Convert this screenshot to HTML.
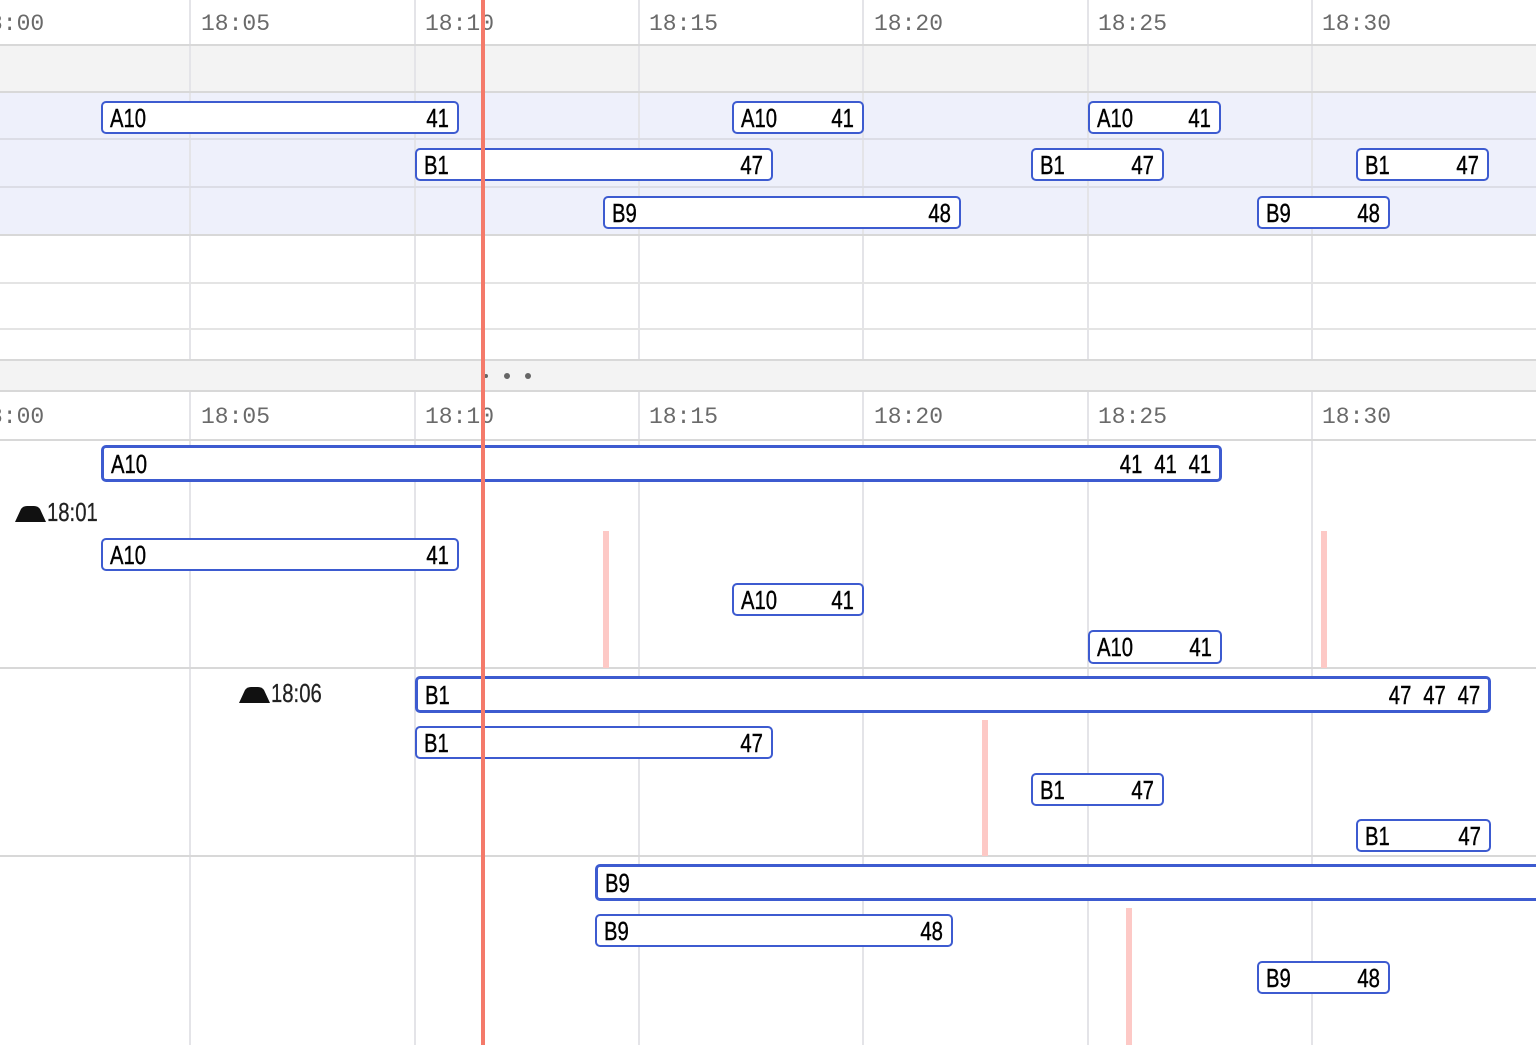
<!DOCTYPE html>
<html><head><meta charset="utf-8"><style>
*{margin:0;padding:0;box-sizing:border-box}
body{width:1536px;height:1045px;position:relative;overflow:hidden;background:#fff;font-family:"Liberation Sans",sans-serif}
.a{position:absolute}
.t{position:absolute;font-family:"Liberation Mono",monospace;font-size:23px;color:#6a6a6a;line-height:1}
.v{position:absolute;width:2px;background:#e4e4e8}
.h{position:absolute;left:0;width:1536px;height:2px;background:#d8d8d8}
.b{position:absolute;border:2px solid #3d5bd0;border-radius:5px;background:#fff;font-size:26px;color:#000;display:flex;justify-content:space-between;align-items:center;padding:0 8px 0 7px;line-height:1;-webkit-text-stroke:0.4px #000}
.b span{display:inline-block;transform:scaleX(.78);transform-origin:left center}
.b span+span{transform-origin:right center}
.B{border-width:3px}
.p{position:absolute;width:6px;background:#fdc9c6}
.lb{position:absolute;font-size:26px;color:#222;display:flex;align-items:center;gap:1px;-webkit-text-stroke:0.3px #222}
.lb span{display:inline-block;transform:scaleX(.78);transform-origin:left center}
</style></head><body>
<div class="a" style="left:0;top:45px;width:1536px;height:47px;background:#f3f3f3"></div>
<div class="a" style="left:0;top:92px;width:1536px;height:143px;background:#eef0fb"></div>
<div class="a" style="left:0;top:360px;width:1536px;height:32px;background:#f3f3f3"></div>
<div class="v" style="left:189px;top:0;height:360px"></div>
<div class="v" style="left:414px;top:0;height:360px"></div>
<div class="v" style="left:638px;top:0;height:360px"></div>
<div class="v" style="left:862px;top:0;height:360px"></div>
<div class="v" style="left:1087px;top:0;height:360px"></div>
<div class="v" style="left:1311px;top:0;height:360px"></div>
<div class="v" style="left:189px;top:392px;height:653px"></div>
<div class="v" style="left:414px;top:392px;height:653px"></div>
<div class="v" style="left:638px;top:392px;height:653px"></div>
<div class="v" style="left:862px;top:392px;height:653px"></div>
<div class="v" style="left:1087px;top:392px;height:653px"></div>
<div class="v" style="left:1311px;top:392px;height:653px"></div>
<div class="h" style="top:44px"></div>
<div class="h" style="top:91px"></div>
<div class="h" style="top:138px;background:#dcdde6"></div>
<div class="h" style="top:186px;background:#dcdde6"></div>
<div class="h" style="top:234px"></div>
<div class="h" style="top:282px;background:#e4e4e4"></div>
<div class="h" style="top:328px;background:#e4e4e4"></div>
<div class="h" style="top:359px"></div>
<div class="h" style="top:390px"></div>
<div class="h" style="top:439px"></div>
<div class="h" style="top:667px"></div>
<div class="h" style="top:855px"></div>
<div class="a" style="left:484px;top:374px;width:4px;height:4px;border-radius:2px;background:#666"></div>
<div class="a" style="left:504px;top:373px;width:6px;height:6px;border-radius:3px;background:#666"></div>
<div class="a" style="left:525px;top:373px;width:6px;height:6px;border-radius:3px;background:#666"></div>
<div class="t" style="left:-11px;top:13px">8:00</div>
<div class="t" style="left:201px;top:13px">18:05</div>
<div class="t" style="left:425px;top:13px">18:10</div>
<div class="t" style="left:649px;top:13px">18:15</div>
<div class="t" style="left:874px;top:13px">18:20</div>
<div class="t" style="left:1098px;top:13px">18:25</div>
<div class="t" style="left:1322px;top:13px">18:30</div>
<div class="t" style="left:-11px;top:406px">8:00</div>
<div class="t" style="left:201px;top:406px">18:05</div>
<div class="t" style="left:425px;top:406px">18:10</div>
<div class="t" style="left:649px;top:406px">18:15</div>
<div class="t" style="left:874px;top:406px">18:20</div>
<div class="t" style="left:1098px;top:406px">18:25</div>
<div class="t" style="left:1322px;top:406px">18:30</div>
<div class="b" style="left:101px;top:101px;width:358px;height:33px"><span>A10</span><span>41</span></div>
<div class="b" style="left:732px;top:101px;width:132px;height:33px"><span>A10</span><span>41</span></div>
<div class="b" style="left:1088px;top:101px;width:133px;height:33px"><span>A10</span><span>41</span></div>
<div class="b" style="left:415px;top:148px;width:358px;height:33px"><span>B1</span><span>47</span></div>
<div class="b" style="left:1031px;top:148px;width:133px;height:33px"><span>B1</span><span>47</span></div>
<div class="b" style="left:1356px;top:148px;width:133px;height:33px"><span>B1</span><span>47</span></div>
<div class="b" style="left:603px;top:196px;width:358px;height:33px"><span>B9</span><span>48</span></div>
<div class="b" style="left:1257px;top:196px;width:133px;height:33px"><span>B9</span><span>48</span></div>
<div class="p" style="left:603px;top:531px;height:137px"></div>
<div class="p" style="left:1321px;top:531px;height:137px"></div>
<div class="p" style="left:982px;top:720px;height:136px"></div>
<div class="p" style="left:1126px;top:908px;height:137px"></div>
<div class="b B" style="left:101px;top:445px;width:1121px;height:37px"><span>A10</span><span style="word-spacing:8px">41 41 41</span></div>
<div class="lb" style="left:15px;top:497px"><svg width="31" height="18"><path d="M0,18 L6,5 Q8,2 12,2 L19,2 Q23,2 25,5 L31,18 Z" fill="#111"/></svg><span>18:01</span></div>
<div class="b" style="left:101px;top:538px;width:358px;height:33px"><span>A10</span><span>41</span></div>
<div class="b" style="left:732px;top:583px;width:132px;height:33px"><span>A10</span><span>41</span></div>
<div class="b" style="left:1088px;top:630px;width:134px;height:34px"><span>A10</span><span>41</span></div>
<div class="b B" style="left:415px;top:676px;width:1076px;height:37px"><span>B1</span><span style="word-spacing:8px">47 47 47</span></div>
<div class="lb" style="left:239px;top:678px"><svg width="31" height="18"><path d="M0,18 L6,5 Q8,2 12,2 L19,2 Q23,2 25,5 L31,18 Z" fill="#111"/></svg><span>18:06</span></div>
<div class="b" style="left:415px;top:726px;width:358px;height:33px"><span>B1</span><span>47</span></div>
<div class="b" style="left:1031px;top:773px;width:133px;height:33px"><span>B1</span><span>47</span></div>
<div class="b" style="left:1356px;top:819px;width:135px;height:33px"><span>B1</span><span>47</span></div>
<div class="b B" style="left:595px;top:864px;width:960px;height:37px"><span>B9</span><span></span></div>
<div class="b" style="left:595px;top:914px;width:358px;height:33px"><span>B9</span><span>48</span></div>
<div class="b" style="left:1257px;top:961px;width:133px;height:33px"><span>B9</span><span>48</span></div>
<div class="a" style="left:481px;top:0;width:4px;height:1045px;background:#f47a6a"></div>
</body></html>
